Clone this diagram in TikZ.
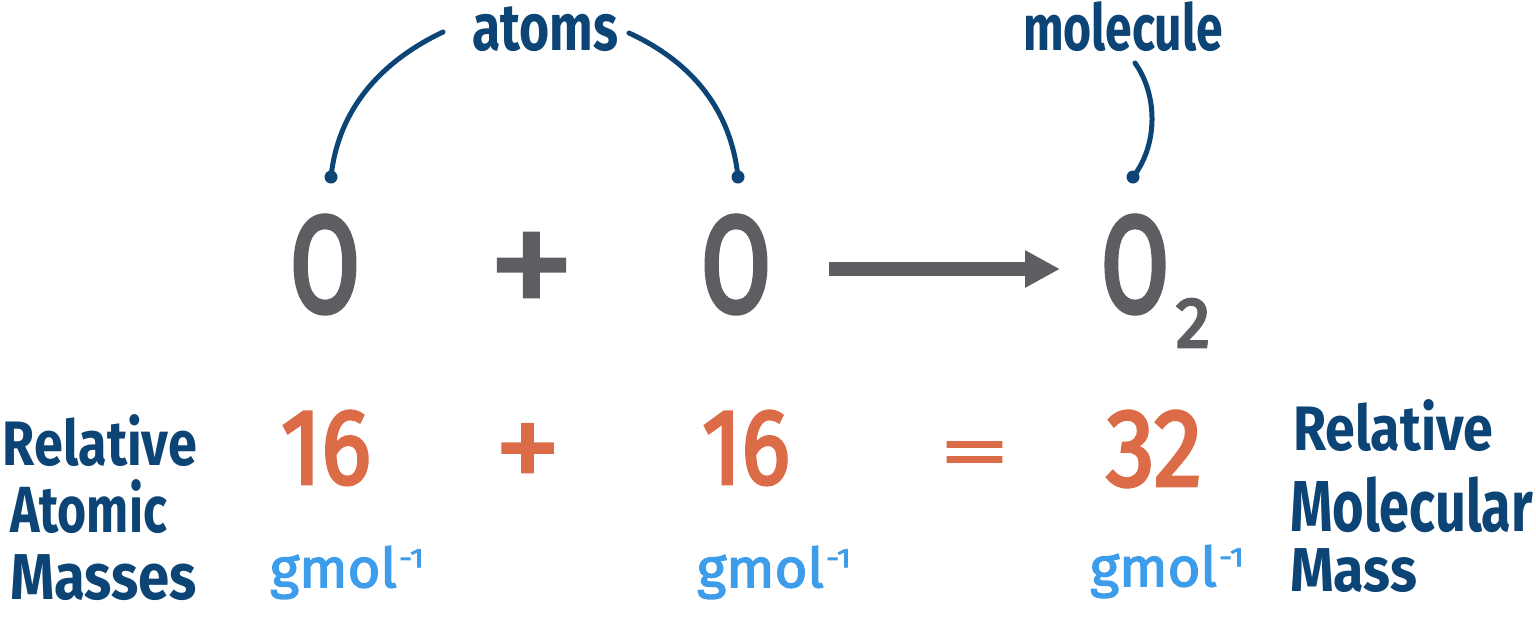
\documentclass[tikz,border=0pt]{standalone}
\usepackage{fontspec}
\usepackage{graphicx}
\setmainfont{Fira Sans}
\newfontfamily\handfont{Fira Sans}
\newfontfamily\medfont{Fira Sans}[FakeBold=4]
\newfontfamily\numfont{Fira Sans}[FakeBold=3]
\newfontfamily\opfont{Fira Sans}[FakeBold=1]
\newfontfamily\unitfont{Fira Sans}[FakeBold=2.5]
\usetikzlibrary{arrows.meta}
\definecolor{navy}{HTML}{0B4475}
\definecolor{symgray}{HTML}{5D5E62}
\definecolor{numorange}{HTML}{DC6B47}
\definecolor{unitblue}{HTML}{3E9DEA}
\newcommand\fitbox[3]{\resizebox*{#1}{#2}{#3}}
\newcommand\unitlbl{\fitbox{63.5pt}{26.5pt}{gmol}\kern1pt\raisebox{10pt}{\fitbox{12.5pt}{9pt}{-1}}}
\tikzset{
  x=0.5pt, y=-0.5pt,
  every node/.style={inner sep=0pt, outer sep=0pt},
  hand/.style={anchor=south west, text=navy, font=\handfont\bfseries},
  chem/.style={anchor=south west, text=symgray, font=\medfont},
  num/.style={anchor=south west, text=numorange, font=\numfont},
  unit/.style={anchor=south west, text=unitblue, font=\unitfont},
  opsym/.style={anchor=center, font=\opfont},
  conn/.style={draw=navy, line width=2.5pt, line cap=round},
  dot/.style={circle, fill=navy, minimum size=6.5pt},
  react/.style={draw=symgray, line width=7pt, -{Triangle[length=17.5pt, width=17.5pt]}}
}
\begin{document}
\begin{tikzpicture}
\useasboundingbox (0,0) rectangle (1536,616);
% labels
\node[hand] (atoms) at (472,52) {\fitbox{73pt}{22.5pt}{atoms}};
\node[hand] (molecule) at (1023,52) {\fitbox{100pt}{25pt}{molecule}};
\coordinate (a1) at (443,32);
\coordinate (a2) at (629,33);
\coordinate (m1) at (1135,63);
% dots
\node[dot] (d1) at (331,177) {};
\node[dot] (d2) at (738,177) {};
\node[dot] (d3) at (1133,177) {};
% connectors
\draw[conn] (a1) .. controls (380,62) and (338,110) .. (d1.center);
\draw[conn] (a2) .. controls (692,62) and (731,110) .. (d2.center);
\draw[conn] (m1) .. controls (1158,95) and (1158,145) .. (d3.center);
% equation
\node[chem] (O1) at (290,313) {\fitbox{35pt}{48.5pt}{O}};
\node[opsym, text=symgray] (p1) at (531.5,277.5) {\fitbox{45pt}{45pt}{+}};
\node[chem] (O2) at (701,313) {\fitbox{35pt}{48.5pt}{O}};
\coordinate (r1) at (829,269);
\coordinate (r2) at (1060,269);
\draw[react] (r1) -- (r2);
\node[chem] (O3) at (1101,313) {\fitbox{34pt}{48.5pt}{O}};
\node[chem] (sub) at (1176,347) {\fitbox{17pt}{24pt}{2}};
% numbers
\node[num] (n1) at (281,485) {\fitbox{45pt}{37pt}{16}};
\node[opsym, text=numorange] (p2) at (527.5,457.5) {\fitbox{34pt}{34pt}{+}};
\node[num] (n2) at (702,485) {\fitbox{44pt}{37pt}{16}};
\node[opsym, text=numorange] (eq) at (974.5,459.5) {\fitbox{36pt}{18pt}{=}};
\node[num] (n3) at (1106,487) {\fitbox{48pt}{38pt}{32}};
% units
\node[unit] (u1) at (270,599) {\unitlbl};
\node[unit] (u2) at (697,599) {\unitlbl};
\node[unit] (u3) at (1090,598) {\unitlbl};
% side labels
\node[hand] (l1) at (3,467) {\fitbox{97pt}{26pt}{Relative}};
\node[hand] (l2) at (10,534) {\fitbox{78.5pt}{27pt}{Atomic}};
\node[hand] (l3) at (10,601) {\fitbox{93.5pt}{23pt}{Masses}};
\node[hand] (r1l) at (1293,452) {\fitbox{100pt}{26pt}{Relative}};
\node[hand] (r2l) at (1290,533) {\fitbox{121.5pt}{28pt}{Molecular}};
\node[hand] (r3l) at (1290,593) {\fitbox{63.5pt}{22pt}{Mass}};
\end{tikzpicture}
\end{document}
